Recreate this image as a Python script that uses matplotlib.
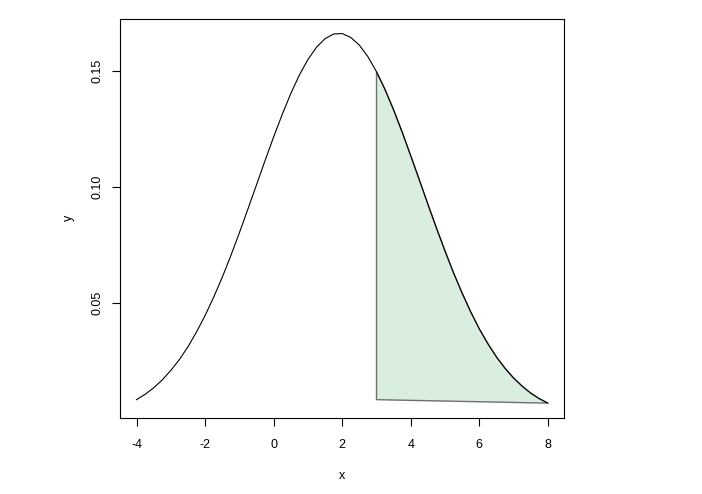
import matplotlib
matplotlib.use('Agg')
import matplotlib.pyplot as plt

# density curve at 0.25 steps
x_vals = [-4, -3.75, -3.5, -3.25, -3, -2.75, -2.5, -2.25, -2, -1.75, -1.5, -1.25,
          -1, -0.75, -0.5, -0.25, 0, 0.25, 0.5, 0.75, 1, 1.25, 1.5, 1.75,
          2, 2.25, 2.5, 2.75, 3, 3.25, 3.5, 3.75, 4, 4.25, 4.5, 4.75, 5, 5.25,
          5.5, 5.75, 6, 6.25, 6.5, 6.75, 7, 7.25, 7.5, 7.75, 8]
y_vals = [0.0081, 0.0104, 0.0132, 0.0166, 0.0207, 0.0254, 0.0309, 0.0373,
          0.0444, 0.0523, 0.0609, 0.0702, 0.0801, 0.0904, 0.1008, 0.1113,
          0.1215, 0.1312, 0.1402, 0.1482, 0.1549, 0.1602, 0.1639, 0.1659,
          0.1661, 0.1644, 0.1611, 0.1561, 0.1496, 0.1419, 0.1331, 0.1235,
          0.1133, 0.1029, 0.0924, 0.0821, 0.0722, 0.0627, 0.0540, 0.0459,
          0.0386, 0.0322, 0.0265, 0.0216, 0.0174, 0.0139, 0.0109, 0.0085, 0.0066]

# shaded region starts at x = 3, bottom left corner sits at the curve's min on the left
shade_from = 3
shade_base = 0.0081

x_ticks = [-4, -2, 0, 2, 4, 6, 8]
y_ticks = [0.05, 0.10, 0.15]

plt.rcParams['font.family'] = ['Liberation Sans', 'DejaVu Sans']

fig = plt.figure(figsize=(7.02, 4.94), dpi=100)
ax = fig.add_axes([0.171, 0.154, 0.633, 0.808])

px = [shade_from] + [a for a in x_vals if a >= shade_from]
py = [shade_base] + [b for a, b in zip(x_vals, y_vals) if a >= shade_from]
ax.fill(px, py, facecolor='#d9eedf', edgecolor='#6e6e6e', linewidth=1.0)
ax.plot(x_vals, y_vals, color='black', linewidth=0.8)

xr = max(x_vals) - min(x_vals)
yr = max(y_vals) - min(y_vals)
ax.set_xlim(min(x_vals) - 0.04 * xr, max(x_vals) + 0.04 * xr)
ax.set_ylim(min(y_vals) - 0.04 * yr, max(y_vals) + 0.04 * yr)

ax.set_xticks(x_ticks)
ax.set_xticklabels([str(t) for t in x_ticks])
ax.set_yticks(y_ticks)
ax.set_yticklabels(['%.2f' % t for t in y_ticks], rotation=90, va='center')
ax.tick_params(length=6, width=0.8, labelsize=9, pad=6)
ax.tick_params(axis='x', pad=9)
for s in ax.spines.values():
    s.set_linewidth(0.8)

ax.set_xlabel('x', fontsize=9, labelpad=14)
ax.set_ylabel('y', fontsize=9, labelpad=12)

fig.savefig('out.png', dpi=100)
